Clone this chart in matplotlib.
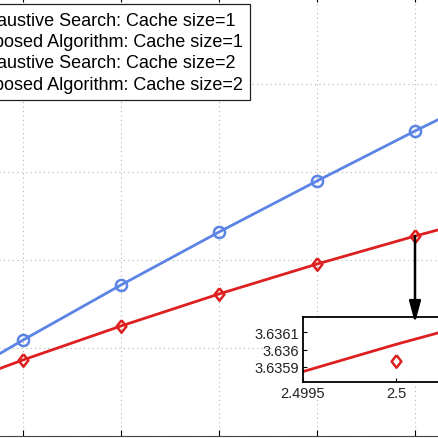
import matplotlib
matplotlib.use('Agg')
import matplotlib.pyplot as plt

plt.rcParams['font.family'] = ['Liberation Sans', 'DejaVu Sans']

# data
snr = [0, 0.5, 1, 1.5, 2, 2.5, 3]
exh_c1 = [2.720, 3.045, 3.358, 3.659, 3.949, 4.233, 4.506]
prop_c1 = [2.720, 3.045, 3.358, 3.659, 3.949, 4.233, 4.506]
exh_c2 = [2.727, 2.932, 3.125, 3.307, 3.477, 3.63603, 3.784]
prop_c2 = [2.727, 2.932, 3.125, 3.307, 3.477, 3.63593, 3.784]
labels = ['Exhaustive Search: Cache size=1', 'Proposed Algorithm: Cache size=1',
          'Exhaustive Search: Cache size=2', 'Proposed Algorithm: Cache size=2']
inset_xticks = [2.4995, 2.5, 2.5005]
inset_xlabels = ['2.4995', '2.5', '2.5005']
inset_yticks = [3.6359, 3.636, 3.6361]
inset_ylabels = ['3.6359', '3.636', '3.6361']

blue = '#5B84E4'
red = '#DE1F1F'
diamond = [(0, 1), (0.78, 0), (0, -1), (-0.78, 0), (0, 1)]

W = H = 439
fig = plt.figure(figsize=(4.39, 4.39), dpi=100)
# main axes runs past the edges of the picture
ax = fig.add_axes([-75 / W, 2 / H, 588 / W, 440 / H])


def draw(a, lw=2.0):
    a.plot(snr, exh_c1, color=blue, lw=lw, label=labels[0])
    a.plot(snr, prop_c1, color=blue, lw=0, marker='o', ms=8, mfc='none',
           mec=blue, mew=1.8, label=labels[1])
    a.plot(snr, exh_c2, color=red, lw=lw, label=labels[2])
    a.plot(snr, prop_c2, color=red, lw=0, marker=diamond, ms=9, mfc='none',
           mec=red, mew=1.8, label=labels[3])


draw(ax)
ax.set_xlim(0, 3)
ax.set_ylim(2.5, 5)
ax.set_xticks([0, 0.5, 1, 1.5, 2, 2.5, 3])
ax.set_yticks([2.5, 3, 3.5, 4, 4.5, 5])
ax.grid(True, color='#b4b4b4', ls=(0, (1, 3)), lw=0.8)
# tick labels of the big axes sit outside the crop
ax.tick_params(direction='in', length=4, top=True, right=True,
               labelbottom=False, labelleft=False)
for s in ax.spines.values():
    s.set_color('#444444')
    s.set_linewidth(0.8)

leg = ax.legend(loc='upper right', bbox_to_anchor=(250 / W, 1 - 5 / H),
                bbox_transform=fig.transFigure, borderaxespad=0, fontsize=13,
                labelspacing=0.24, borderpad=0.42, fancybox=False, framealpha=1)
leg.get_frame().set_edgecolor('#222222')
leg.get_frame().set_linewidth(0.9)

# zoomed inset
axins = fig.add_axes([303 / W, 56 / H, 186 / W, 65 / H])
draw(axins, lw=2.0)
axins.set_xlim(2.4995, 2.5005)
axins.set_ylim(3.63581, 3.63619)
axins.set_xticks(inset_xticks)
axins.set_xticklabels(inset_xlabels)
axins.set_yticks(inset_yticks)
axins.set_yticklabels(inset_ylabels)
axins.tick_params(direction='in', length=3, labelsize=10.5, pad=3,
                  labelcolor='#222222')
for s in axins.spines.values():
    s.set_linewidth(1.3)

axins.annotate('', xy=(2.5, 3.142), xytext=(2.5, 3.636),
               xycoords=ax.transData, textcoords=ax.transData,
               annotation_clip=False,
               arrowprops=dict(arrowstyle='-|>,head_length=1.3,head_width=0.35',
                               color='black', lw=1.8, shrinkA=0, shrinkB=0))

fig.savefig('out.png', dpi=100)
